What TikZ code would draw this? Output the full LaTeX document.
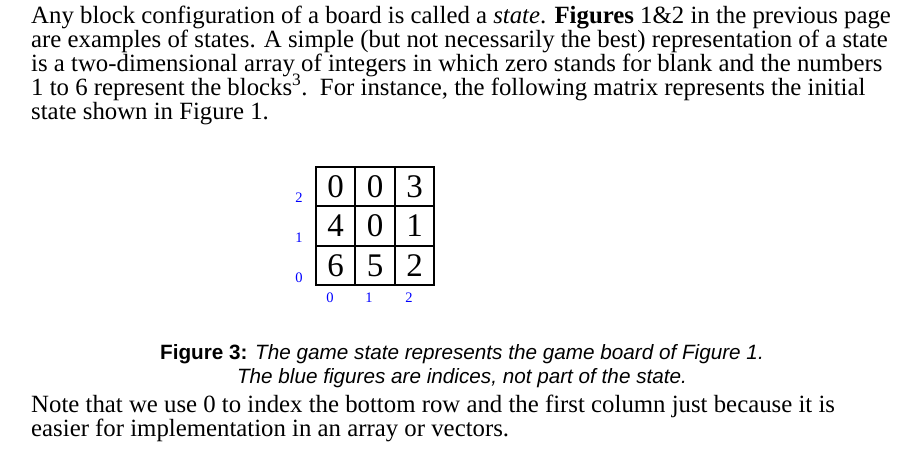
\documentclass[tikz,border=0pt]{standalone}
\usepackage{fontspec}
\setmainfont{Liberation Serif}
\newfontfamily\capfont{Liberation Sans}
\begin{document}
\begin{tikzpicture}[x=1pt,y=-1pt,
  body/.style={anchor=base west,inner sep=0pt,font=\fontsize{24.8}{24}\selectfont},
  cell/.style={draw,line width=1.6pt,minimum size=39.5pt,inner sep=0pt,font=\fontsize{33}{30}\selectfont},
  idx/.style={text=blue,inner sep=0pt,font=\fontsize{14.5}{12}\selectfont},
  captext/.style={inner sep=0pt,anchor=base,font=\capfont\fontsize{20.7}{20}\selectfont}]
\useasboundingbox (0,0) rectangle (906,450);
\node[body] (l1) at (31,23) {Any block configuration of a board is called a \textit{state}. \textbf{Figures} 1\&2 in the previous page};
\node[body] (l2) at (31,47) {are examples of states. A simple (but not necessarily the best) representation of a state};
\node[body] (l3) at (31,71) {is a two-dimensional array of integers in which zero stands for blank and the numbers};
\node[body] (l4) at (31,95) {1 to 6 represent the blocks\textsuperscript{3}.\ \ For instance, the following matrix represents the initial};
\node[body] (l5) at (31,119) {state shown in Figure 1.};
\foreach \r/\a/\b/\c [count=\i from 0] in {0/0/0/3,1/4/0/1,2/6/5/2}{
  \node[cell] (c\i0) at (335.5,186.5+39.5*\i) {\a};
  \node[cell] (c\i1) at (375,186.5+39.5*\i) {\b};
  \node[cell] (c\i2) at (414.5,186.5+39.5*\i) {\c};
}
\node[idx] (r2) at (299,198) {2};
\node[idx] (r1) at (299,238) {1};
\node[idx] (r0) at (299,278) {0};
\node[idx] (k0) at (330,298) {0};
\node[idx] (k1) at (369,298) {1};
\node[idx] (k2) at (409,298) {2};
\node[captext] (cp1) at (462,359) {\textbf{Figure 3:} \textit{The game state represents the game board of Figure 1.}};
\node[captext] (cp2) at (462,383) {\textit{The blue figures are indices, not part of the state.}};
\node[body] (l6) at (31,412) {Note that we use 0 to index the bottom row and the first column just because it is};
\node[body] (l7) at (31,436) {easier for implementation in an array or vectors.};
\end{tikzpicture}
\end{document}
